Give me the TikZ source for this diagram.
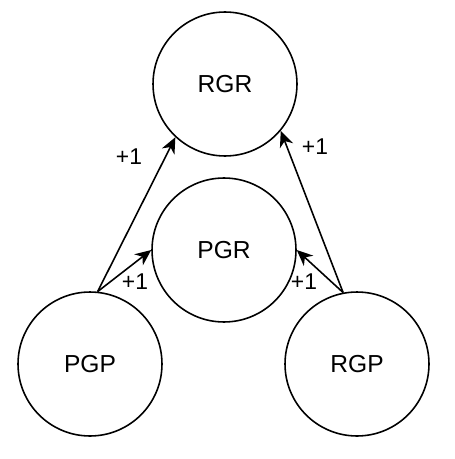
\documentclass[tikz,border=0pt]{standalone}
\usepackage{fontspec}
\setmainfont{Liberation Sans}
\usetikzlibrary{arrows.meta,positioning}
\tikzset{
  state/.style={draw,circle,line width=0.9pt,minimum size=2.88cm,inner sep=0pt,font=\fontsize{14}{16}\selectfont},
  lbl/.style={font=\fontsize{13}{15}\selectfont,inner sep=1pt},
  arr/.style={-{Stealth[length=3.2mm,width=2.8mm,inset=1mm]},line width=0.9pt},
}

\begin{document}
\begin{tikzpicture}[x=0.02cm,y=-0.02cm]
\useasboundingbox (0,0) rectangle (454,459);
\node[state] (rgr) at (225,84) {RGR};
\node[state] (pgr) at (224,250) {PGR};
\node[state] (pgp) at (90,364) {PGP};
\node[state] (rgp) at (357,364) {RGP};
\draw[arr] (pgp.84)--(rgr.227);
\draw[arr] (pgp.84)--(pgr.180);
\draw[arr] (rgp.101)--(rgr.-40);
\draw[arr] (rgp.101)--(pgr.0);
\node[lbl] (l1) at (129,157) {+1};
\node[lbl] (l2) at (135,282) {+1};
\node[lbl] (l3) at (315,147) {+1};
\node[lbl] (l4) at (304,282) {+1};
\end{tikzpicture}
\end{document}
